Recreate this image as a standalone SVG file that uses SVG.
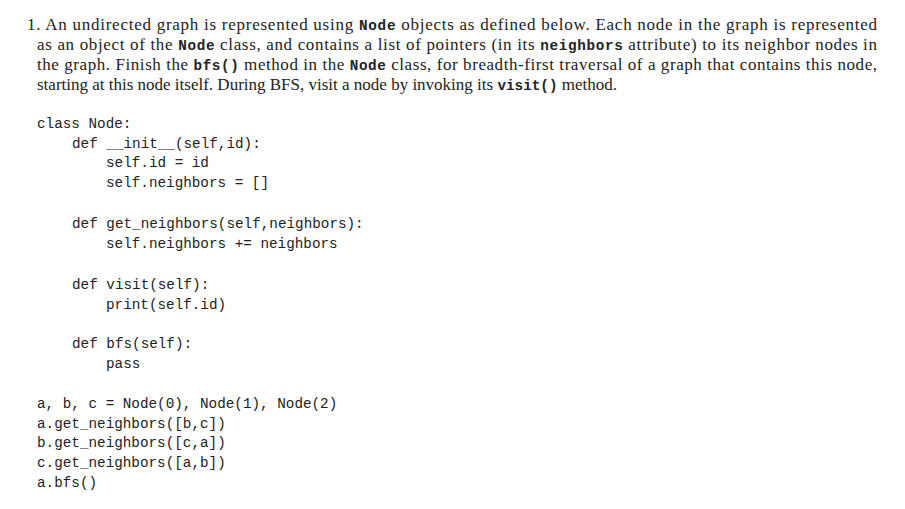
<svg xmlns="http://www.w3.org/2000/svg" width="905" height="509" viewBox="0 0 905 509">
<style>
.t{font-family:"Liberation Serif",serif;font-size:17px;fill:#222}
.m{font-family:"Liberation Mono",monospace;font-size:14.3px;fill:#222}
.b{font-family:"Liberation Mono",monospace;font-weight:bold;font-size:14.3px}
</style>
<rect width="905" height="509" fill="#fff"/>
<g id="question">
<text class="t" x="27" y="30" textLength="850" lengthAdjust="spacing">1. An undirected graph is represented using <tspan class="b">Node</tspan> objects as defined below. Each node in the graph is represented</text>
<text class="t" x="37" y="50" textLength="840" lengthAdjust="spacing">as an object of the <tspan class="b">Node</tspan> class, and contains a list of pointers (in its <tspan class="b">neighbors</tspan> attribute) to its neighbor nodes in</text>
<text class="t" x="37" y="70" textLength="840" lengthAdjust="spacing">the graph. Finish the <tspan class="b">bfs()</tspan> method in the <tspan class="b">Node</tspan> class, for breadth-first traversal of a graph that contains this node,</text>
<text class="t" x="37" y="90">starting at this node itself. During BFS, visit a node by invoking its <tspan class="b">visit()</tspan> method.</text>
</g>
<g id="code">
<text class="m" x="37" y="128">class Node:</text>
<text class="m" x="72" y="148">def __init__(self,id):</text>
<text class="m" x="106" y="167">self.id = id</text>
<text class="m" x="106" y="187">self.neighbors = []</text>
<text class="m" x="72" y="228">def get_neighbors(self,neighbors):</text>
<text class="m" x="106" y="248">self.neighbors += neighbors</text>
<text class="m" x="72" y="289">def visit(self):</text>
<text class="m" x="106" y="309">print(self.id)</text>
<text class="m" x="72" y="348">def bfs(self):</text>
<text class="m" x="106" y="368">pass</text>
<text class="m" x="37" y="408">a, b, c = Node(0), Node(1), Node(2)</text>
<text class="m" x="37" y="428">a.get_neighbors([b,c])</text>
<text class="m" x="37" y="447">b.get_neighbors([c,a])</text>
<text class="m" x="37" y="467">c.get_neighbors([a,b])</text>
<text class="m" x="37" y="487">a.bfs()</text>
</g>
</svg>
